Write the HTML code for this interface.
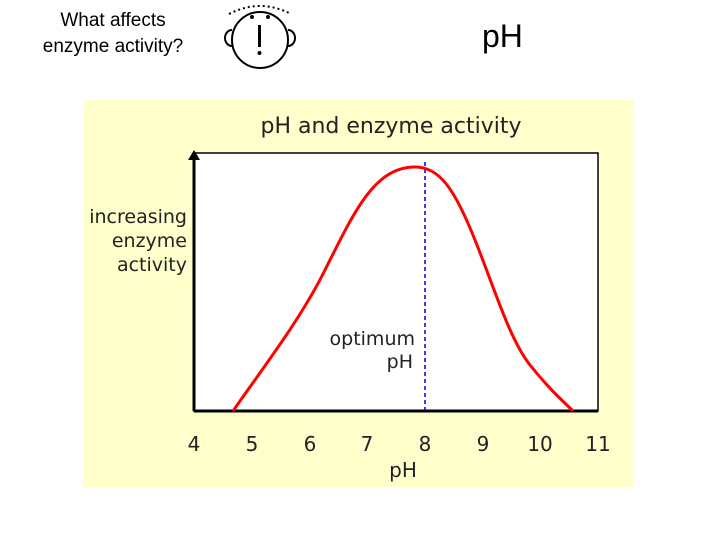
<!DOCTYPE html>
<html><head><style>
body{margin:0;width:720px;height:540px;background:#fff;overflow:hidden;position:relative;font-family:"Liberation Sans",sans-serif}
.t{position:absolute;font-family:"Comic Sans MS","Liberation Sans",sans-serif;color:#000}
</style></head><body>
<div class="t" style="left:18px;top:8px;width:190px;text-align:center;font-size:19px;line-height:26px">What affects<br>enzyme activity?</div>
<svg style="position:absolute;left:215px;top:0" width="90" height="75">
<circle cx="45" cy="40" r="28" fill="none" stroke="#000" stroke-width="2"/>
<path d="M17 30 A7 8 0 0 0 17 46" fill="none" stroke="#000" stroke-width="2"/>
<path d="M73 30 A7 8 0 0 1 73 46" fill="none" stroke="#000" stroke-width="2"/>
<path d="M14 14 Q45 -2 76 14" fill="none" stroke="#000" stroke-width="2" stroke-dasharray="2 3"/>
<circle cx="37" cy="17" r="2"/><circle cx="53" cy="17" r="2"/>
<rect x="43" y="25" width="3" height="22"/><circle cx="44.5" cy="53" r="2"/>
</svg>
<div class="t" style="left:482px;top:18px;font-size:32px">pH</div>
<svg style="position:absolute;left:0;top:0" width="720" height="540">
<rect x="83" y="100" width="551" height="387" fill="#ffffcc"/>
<rect x="194" y="153" width="404" height="258" fill="#fff" stroke="#000" stroke-width="1.5"/>
<line x1="194" y1="411" x2="194" y2="155" stroke="#000" stroke-width="3"/>
<path d="M188 160 L194 150 L200 160 Z" fill="#000"/>
<line x1="194" y1="411" x2="598" y2="411" stroke="#000" stroke-width="3"/>
<line x1="425" y1="162" x2="425" y2="411" stroke="#0000cc" stroke-width="1.5" stroke-dasharray="4 3"/>
<path d="M233 411 C265 365 300 320 325 270 C355 210 375 167 415 167 C440 167 455 190 475 240 C495 290 510 340 530 365 C550 390 562 400 573 411" fill="none" stroke="#ff0000" stroke-width="3"/>
<g font-size="20" fill="#222" font-family="DejaVu Sans,sans-serif">
<text x="391" y="133" text-anchor="middle" font-size="22">pH and enzyme activity</text>
<g text-anchor="middle">
<text x="194" y="451">4</text><text x="252" y="451">5</text><text x="310" y="451">6</text><text x="367" y="451">7</text><text x="425" y="451">8</text><text x="483" y="451">9</text><text x="540" y="451">10</text><text x="598" y="451">11</text>
<text x="403" y="477">pH</text></g>
<g text-anchor="end" font-size="19">
<text x="187" y="223">increasing</text><text x="187" y="247">enzyme</text><text x="187" y="271">activity</text>
<text x="415" y="345">optimum</text><text x="413" y="368">pH</text></g>
</g>
</svg>
</body></html>
